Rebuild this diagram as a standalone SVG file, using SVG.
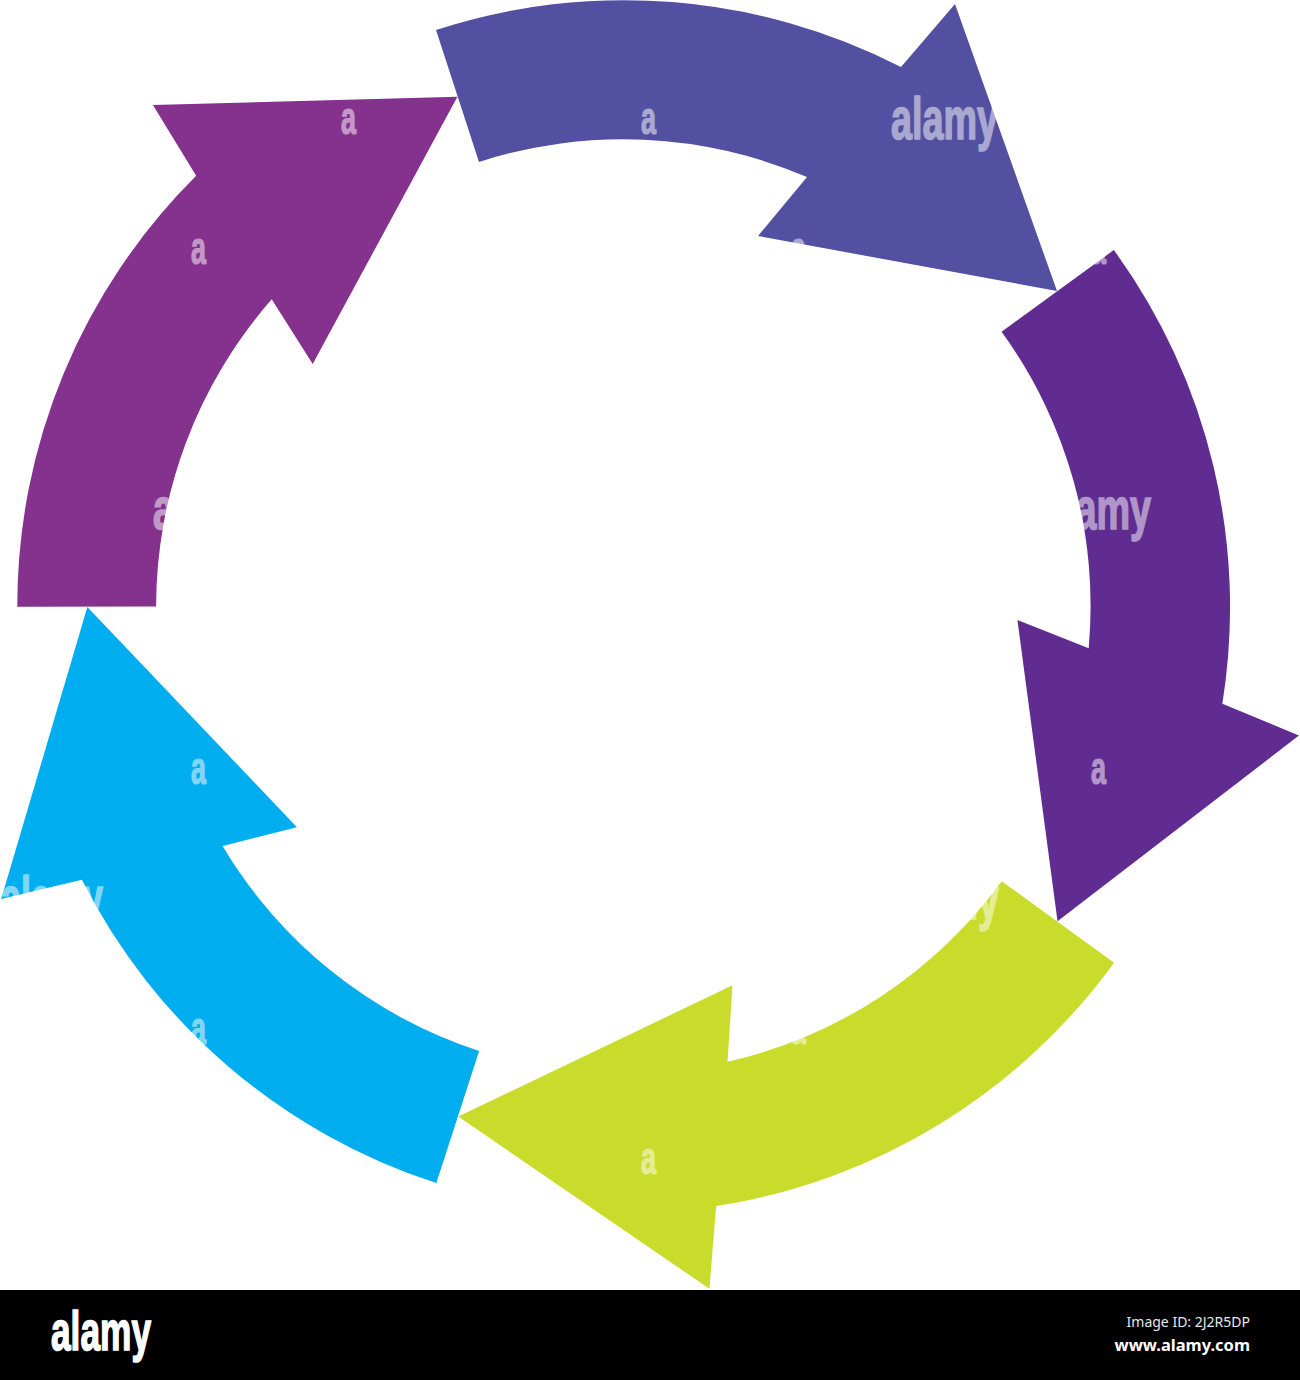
<svg xmlns="http://www.w3.org/2000/svg" xmlns:xlink="http://www.w3.org/1999/xlink" width="1300" height="1380" viewBox="0 0 1300 1380">
<style>
.wm{font-family:"Liberation Sans",Arial,sans-serif;font-weight:700;fill:#fff;stroke:#fff;opacity:.5}
.big{font-size:60px;stroke-width:1.6px}
.small{font-size:46px;stroke-width:1.2px}
.logo{font-family:"Liberation Sans",Arial,sans-serif;font-weight:700;font-size:56px;fill:#fff;stroke:#fff;stroke-width:1.6px}
.id{font-family:"Noto Sans","Open Sans",sans-serif;font-size:14px;fill:#e8e8e8;text-anchor:end}
.url{font-family:"Noto Sans","Open Sans",sans-serif;font-weight:700;font-size:16.5px;fill:#fff;text-anchor:end}
</style>
<defs>
<path id="arrow" d="M436 30A607 607 0 0 1 901 67L955 4L1057 291L758 236L807 177A467 467 0 0 0 479 162Z"/>
</defs>
<rect width="1300" height="1380" fill="#fff"/>
<g id="arrow-indigo"><use href="#arrow" xlink:href="#arrow" fill="#5350A2"/></g>
<g id="arrow-purple"><use href="#arrow" xlink:href="#arrow" fill="#612C91" transform="rotate(72 623.5 606.5)"/></g>
<g id="arrow-lime"><use href="#arrow" xlink:href="#arrow" fill="#C9DC2B" transform="rotate(144 623.5 606.5)"/></g>
<g id="arrow-blue"><use href="#arrow" xlink:href="#arrow" fill="#00AEEF" transform="rotate(216 623.5 606.5)"/></g>
<g id="arrow-violet"><use href="#arrow" xlink:href="#arrow" fill="#85318E" transform="rotate(288 623.5 606.5)"/></g>
<g id="watermarks">
<text class="wm big" x="891" y="139" textLength="107" lengthAdjust="spacingAndGlyphs">alamy</text>
<text class="wm big" x="1044" y="529" textLength="107" lengthAdjust="spacingAndGlyphs">alamy</text>
<text class="wm big" x="153" y="529" textLength="107" lengthAdjust="spacingAndGlyphs">alamy</text>
<text class="wm big" x="1" y="918" textLength="102" lengthAdjust="spacingAndGlyphs">alamy</text>
<text class="wm big" x="892" y="919" textLength="107" lengthAdjust="spacingAndGlyphs">alamy</text>
<text class="wm small" x="341" y="134" textLength="15" lengthAdjust="spacingAndGlyphs">a</text>
<text class="wm small" x="641" y="134" textLength="15" lengthAdjust="spacingAndGlyphs">a</text>
<text class="wm small" x="191" y="264" textLength="15" lengthAdjust="spacingAndGlyphs">a</text>
<text class="wm small" x="791" y="264" textLength="15" lengthAdjust="spacingAndGlyphs">a</text>
<text class="wm small" x="1091" y="264" textLength="15" lengthAdjust="spacingAndGlyphs">a</text>
<text class="wm small" x="191" y="784" textLength="15" lengthAdjust="spacingAndGlyphs">a</text>
<text class="wm small" x="1091" y="784" textLength="15" lengthAdjust="spacingAndGlyphs">a</text>
<text class="wm small" x="791" y="1044" textLength="15" lengthAdjust="spacingAndGlyphs">a</text>
<text class="wm small" x="191" y="1044" textLength="15" lengthAdjust="spacingAndGlyphs">a</text>
<text class="wm small" x="641" y="1174" textLength="15" lengthAdjust="spacingAndGlyphs">a</text>
</g>
<g id="footer">
<rect x="0" y="1290" width="1300" height="90" fill="#000"/>
<text class="logo" x="51" y="1350" textLength="100" lengthAdjust="spacingAndGlyphs">alamy</text>
<text class="id" x="1250" y="1327">Image ID: 2J2R5DP</text>
<text class="url" x="1250" y="1351">www.alamy.com</text>
</g>
</svg>
